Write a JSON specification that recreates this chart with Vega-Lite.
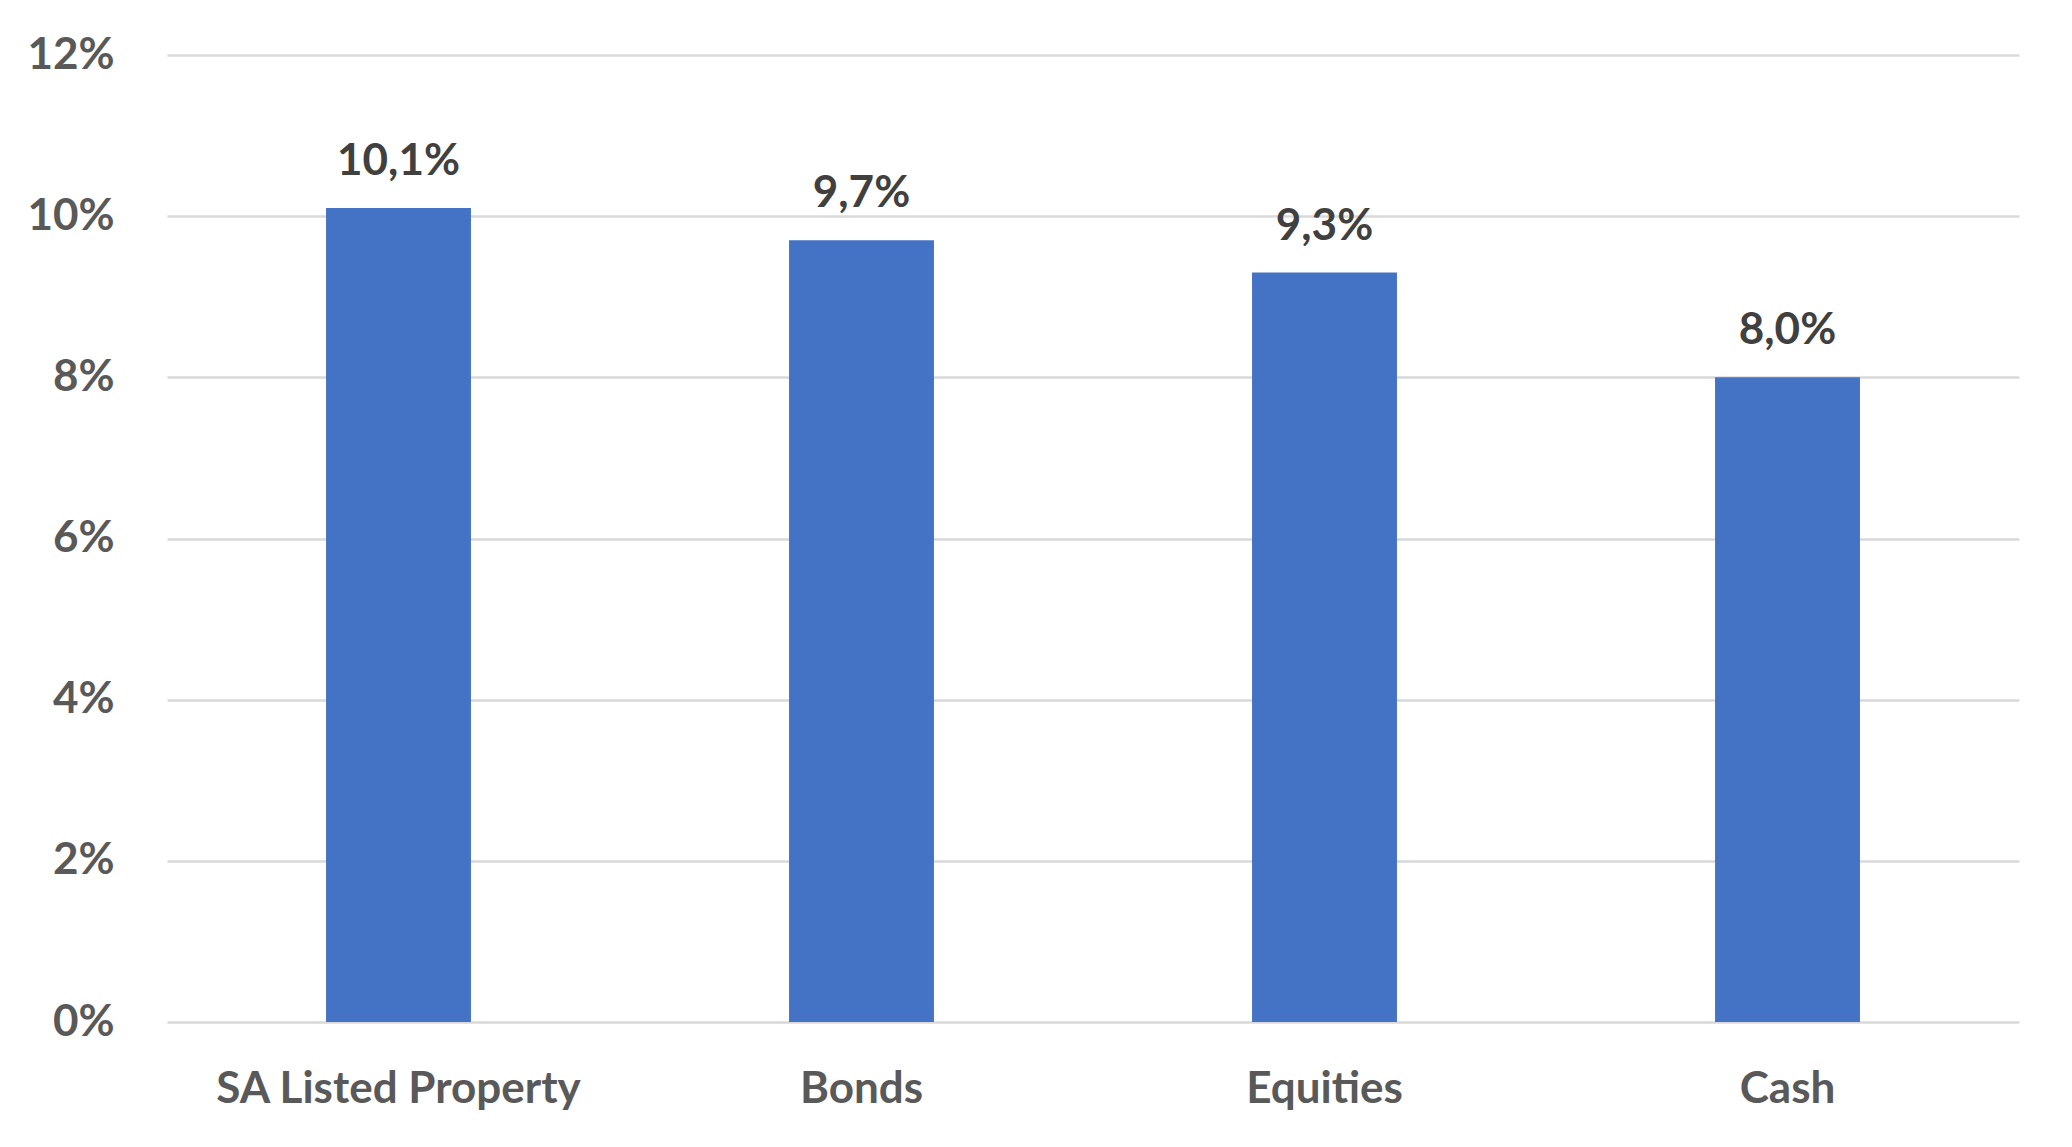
{
  "$schema": "https://vega.github.io/schema/vega-lite/v6.json",
  "width": 1852,
  "height": 967,
  "autosize": {"type": "none"},
  "padding": {"left": 167, "top": 55, "right": 53, "bottom": 125},
  "background": "#ffffff",
  "config": {
    "view": {"stroke": null},
    "font": "Lato",
    "locale": {"number": {"decimal": ",", "thousands": " ", "grouping": [3], "currency": ["R", ""]}}
  },
  "data": {
    "values": [
      {"asset": "SA Listed Property", "value": 0.101},
      {"asset": "Bonds", "value": 0.097},
      {"asset": "Equities", "value": 0.093},
      {"asset": "Cash", "value": 0.080}
    ]
  },
  "encoding": {
    "x": {
      "field": "asset", "type": "nominal", "sort": null, "title": null,
      "scale": {"paddingInner": 0, "paddingOuter": 0},
      "axis": {
        "domain": false, "ticks": false, "tickSize": 0, "labelAngle": 0, "labelLimit": 0,
        "labelFont": "Lato", "labelFontSize": 44, "labelFontWeight": "bold",
        "labelColor": "#595959", "labelBaseline": "alphabetic", "labelPadding": 80
      }
    },
    "y": {
      "field": "value", "type": "quantitative", "title": null,
      "scale": {"domain": [0, 0.12], "nice": false},
      "axis": {
        "values": [0, 0.02, 0.04, 0.06, 0.08, 0.1, 0.12],
        "format": ".0%", "domain": false, "ticks": false, "tickSize": 0,
        "grid": true, "gridColor": "#d9d9d9", "gridWidth": 2.5,
        "labelFont": "Lato", "labelFontSize": 44, "labelFontWeight": "bold",
        "labelColor": "#595959", "labelPadding": 53
      }
    }
  },
  "layer": [
    {"mark": {"type": "bar", "color": "#4472C4", "width": {"band": 0.313}}},
    {
      "mark": {"type": "text", "font": "Lato", "fontSize": 44, "fontWeight": "bold", "color": "#404040", "baseline": "alphabetic", "dy": -33},
      "encoding": {"text": {"field": "value", "type": "quantitative", "format": ".1%"}}
    }
  ]
}
